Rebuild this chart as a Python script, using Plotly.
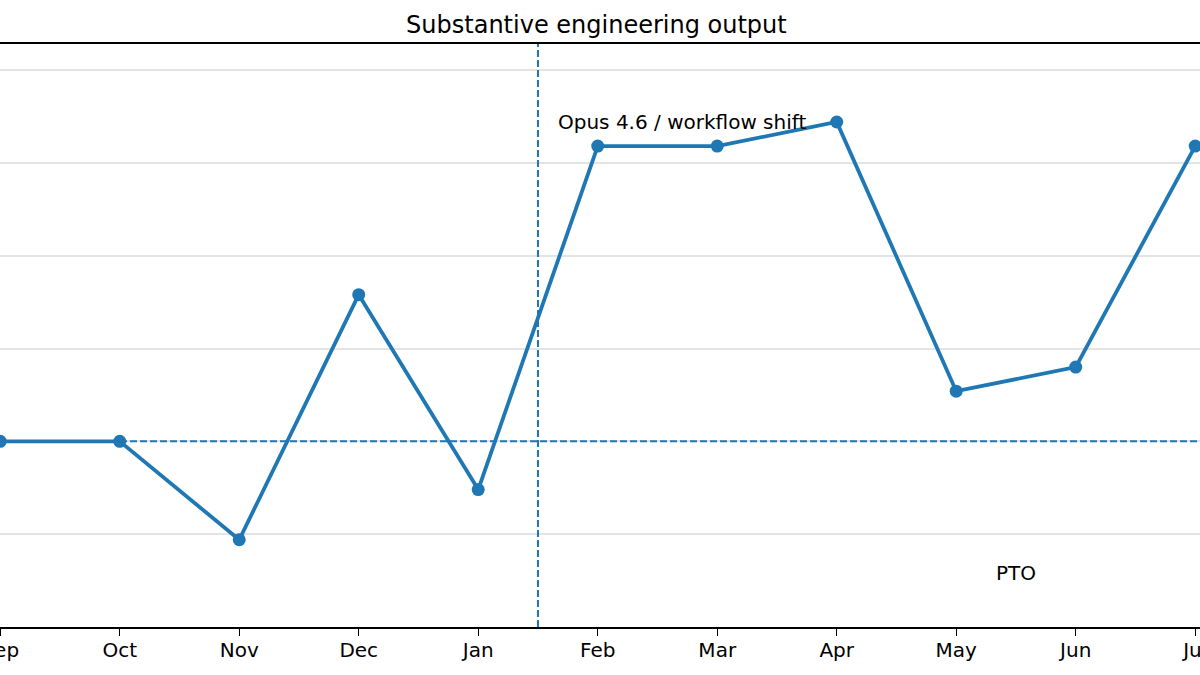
import plotly.graph_objects as go

# Data (values relative to the Sep/Oct baseline)
months = ["Sep", "Oct", "Nov", "Dec", "Jan", "Feb", "Mar", "Apr", "May", "Jun", "Jul"]
output = [1.0, 1.0, 0.47, 1.79, 0.74, 2.59, 2.59, 2.72, 1.27, 1.40, 2.59]
baseline = 1.0
shift_label = "Opus 4.6 / workflow shift"
pto_label = "PTO"
title = "Substantive engineering output"

blue = "#1f77b4"
font = "DejaVu Sans"

fig = go.Figure()

# Baseline and the shift marker between Jan and Feb
fig.add_hline(y=baseline, line=dict(color=blue, width=2, dash="7px,3px"))
fig.add_vline(x=4.5, line=dict(color=blue, width=2, dash="7px,3px"))

fig.add_trace(go.Scatter(
    x=months, y=output, mode="lines+markers",
    line=dict(color=blue, width=3.8),
    marker=dict(color=blue, size=13),
    showlegend=False,
))

fig.add_annotation(x=4.65, y=2.72, text=shift_label, showarrow=False,
                   xanchor="left", yanchor="middle",
                   font=dict(family=font, size=20, color="black"))
fig.add_annotation(x=8.5, y=0.29, text=pto_label, showarrow=False,
                   xanchor="center", yanchor="middle",
                   font=dict(family=font, size=20, color="black"))

fig.update_layout(
    width=1200, height=675,
    margin=dict(l=0, r=0, t=44, b=48),
    paper_bgcolor="white", plot_bgcolor="white",
    font=dict(family=font, size=20, color="black"),
    title=dict(text=title, x=0.497, xanchor="center", y=0.963, yanchor="middle",
               font=dict(family=font, size=24, color="black")),
    xaxis=dict(
        range=[-0.002, 10.04], showgrid=False, zeroline=False, automargin=False,
        showline=True, linecolor="black", linewidth=1.5, mirror=True,
        ticks="outside", ticklen=7, tickwidth=1.3, tickcolor="black",
        ticklabelstandoff=-3,
        tickfont=dict(family=font, size=20, color="black"),
    ),
    yaxis=dict(
        range=[0, 3.14], dtick=0.5, showticklabels=False, automargin=False,
        showgrid=True, gridcolor="#e4e4e4", gridwidth=1.5,
        zeroline=False, showline=False, ticks="",
    ),
)

fig.write_html("out.html", config={"displayModeBar": False},
               post_script="document.body.style.margin='0';")
